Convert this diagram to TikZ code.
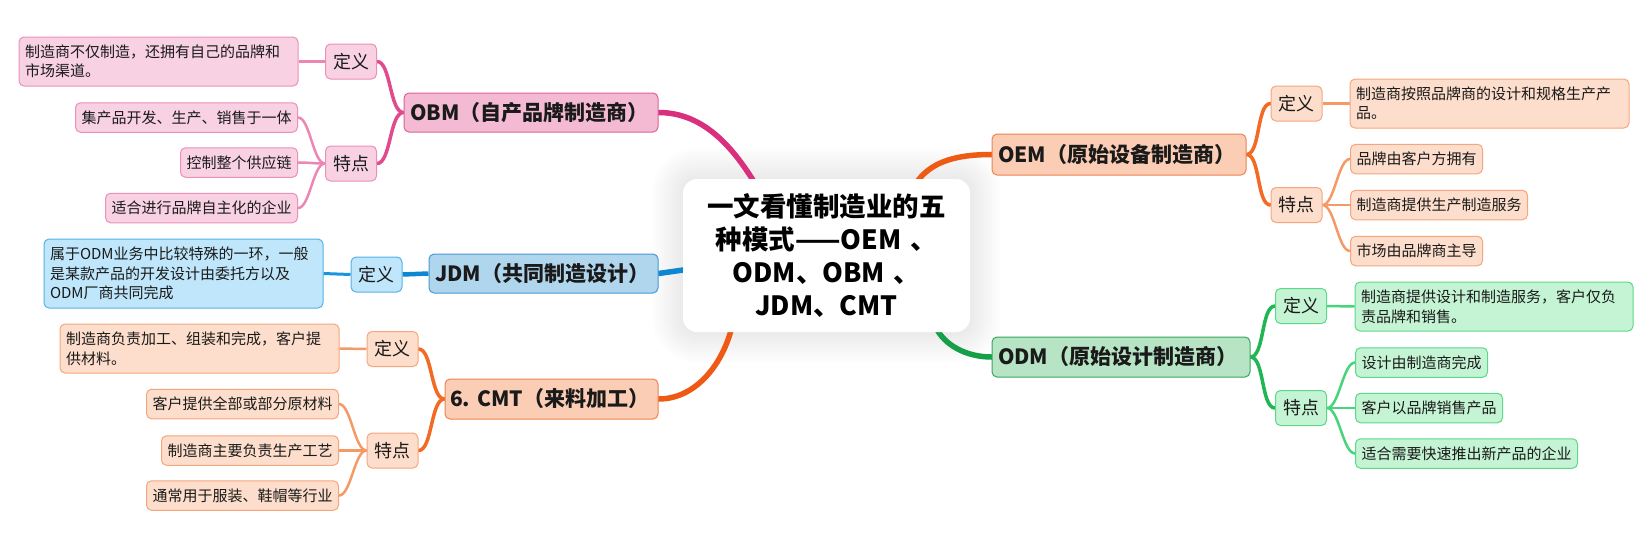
\documentclass[tikz,border=0pt]{standalone}
\usepackage{fontspec}
\newfontfamily\cjk{Noto Sans CJK SC}
\usetikzlibrary{calc}
\pgfdeclarelayer{glow}
\pgfdeclarelayer{lines}
\pgfsetlayers{glow,lines,main}
\definecolor{obmMF}{HTML}{F4BAD4}\definecolor{obmMD}{HTML}{E0609A}
\definecolor{obmSF}{HTML}{F8D2E3}\definecolor{obmSD}{HTML}{EC8FB9}
\definecolor{obmL1}{HTML}{D92F7F}\definecolor{obmL2}{HTML}{E04B8E}\definecolor{obmL3}{HTML}{EE86B4}
\definecolor{oemMF}{HTML}{FBCDB4}\definecolor{oemMD}{HTML}{EF8350}
\definecolor{oemSF}{HTML}{FDDDCB}\definecolor{oemSD}{HTML}{F5A67C}
\definecolor{oemL1}{HTML}{EE5A14}\definecolor{oemL2}{HTML}{F26A24}\definecolor{oemL3}{HTML}{F59A66}
\definecolor{odmMF}{HTML}{B6E4C4}\definecolor{odmMD}{HTML}{35A85C}
\definecolor{odmSF}{HTML}{C4F4D4}\definecolor{odmSD}{HTML}{5CD88A}
\definecolor{odmL1}{HTML}{15A048}\definecolor{odmL2}{HTML}{22B554}\definecolor{odmL3}{HTML}{48D47A}
\definecolor{jdmMF}{HTML}{B0D6EE}\definecolor{jdmMD}{HTML}{4499D4}
\definecolor{jdmSF}{HTML}{BFE6FA}\definecolor{jdmSD}{HTML}{55B2EA}
\definecolor{jdmL1}{HTML}{0E87D2}\definecolor{jdmL2}{HTML}{1A95DD}
\definecolor{txt}{HTML}{1A1A1A}
\begin{document}
\begin{tikzpicture}[x=1pt,y=-1pt,
  box/.style={rounded corners=5pt, line width=1pt, inner ysep=0pt, inner xsep=6pt, text=txt},
  mainbox/.style={box, font=\cjk\bfseries\fontsize{21}{25}\selectfont, align=left},
  subbox/.style={box, font=\cjk\fontsize{18}{22}\selectfont, align=center, inner xsep=0pt, minimum width=51pt, minimum height=35pt},
  leafbox/.style={box, font=\cjk\fontsize{15}{19.5}\selectfont, minimum height=29.5pt},
  deftext/.style={box, font=\cjk\fontsize{15}{19.5}\selectfont, align=left},
  obmM/.style={mainbox, fill=obmMF, draw=obmMD},
  obmS/.style={fill=obmSF, draw=obmSD},
  oemM/.style={mainbox, fill=oemMF, draw=oemMD},
  oemS/.style={fill=oemSF, draw=oemSD},
  odmM/.style={mainbox, fill=odmMF, draw=odmMD},
  odmS/.style={fill=odmSF, draw=odmSD},
  jdmM/.style={mainbox, fill=jdmMF, draw=jdmMD},
  jdmS/.style={fill=jdmSF, draw=jdmSD},
  lmain/.style={line width=5.5pt, line cap=round},
  lsub/.style={line width=3.5pt, line cap=round},
  lleaf/.style={line width=2.5pt},
]
\useasboundingbox (0,0) rectangle (1650,539);

% ---------- centre ----------
\node[box, fill=white, draw=none, rounded corners=14pt, minimum width=287pt, minimum height=153pt,
      text width=262pt, align=center, font=\cjk\bfseries\fontsize{26.5}{33}\selectfont, text=black]
  (c) at (826.5,255.5) {一文看懂制造业的五\\种模式——OEM 、\\ODM、OBM 、\\JDM、CMT};

% ---------- OBM ----------
\node[obmM, minimum width=254pt, minimum height=39pt, text width=242pt] (obm) at (531,112.5) {OBM（自产品牌制造商）};
\node[subbox, obmS] (obmdef) at (351,61.5) {定义};
\node[deftext, obmS, minimum width=279pt, minimum height=49pt, text width=267pt] (obmdeft) at (158.5,61.5) {制造商不仅制造，还拥有自己的品牌和\\市场渠道。};
\node[subbox, obmS] (obmfeat) at (351,163.5) {特点};
\node[leafbox, obmS, anchor=east] (obml1) at (298,117.5) {集产品开发、生产、销售于一体};
\node[leafbox, obmS, anchor=east] (obml2) at (298,162.5) {控制整个供应链};
\node[leafbox, obmS, anchor=east] (obml3) at (298,208) {适合进行品牌自主化的企业};

% ---------- JDM ----------
\node[jdmM, minimum width=229pt, minimum height=39pt, text width=217pt] (jdm) at (543.5,273.5) {JDM（共同制造设计）};
\node[subbox, jdmS] (jdmdef) at (376.5,274.5) {定义};
\node[deftext, jdmS, minimum width=279pt, minimum height=69pt, text width=267pt] (jdmdeft) at (183.5,273.5) {属于ODM业务中比较特殊的一环，一般\\是某款产品的开发设计由委托方以及\\ODM厂商共同完成};

% ---------- CMT ----------
\node[oemM, minimum width=213pt, minimum height=40pt, text width=203pt, inner xsep=5pt] (cmt) at (551.5,399) {\mbox{6.~CMT（来料加工）}};
\node[subbox, oemS] (cmtdef) at (392.5,349) {定义};
\node[deftext, oemS, minimum width=279pt, minimum height=49pt, text width=267pt] (cmtdeft) at (199.5,348.5) {制造商负责加工、组装和完成，客户提\\供材料。};
\node[subbox, oemS] (cmtfeat) at (392.5,450.5) {特点};
\node[leafbox, oemS, anchor=east] (cmtl1) at (339,404) {客户提供全部或部分原材料};
\node[leafbox, oemS, anchor=east] (cmtl2) at (339,450.5) {制造商主要负责生产工艺};
\node[leafbox, oemS, anchor=east] (cmtl3) at (339,495.5) {通常用于服装、鞋帽等行业};

% ---------- OEM ----------
\node[oemM, minimum width=254pt, minimum height=41pt, text width=242pt] (oem) at (1119,154.5) {OEM（原始设备制造商）};
\node[subbox, oemS] (oemdef) at (1296.5,103.5) {定义};
\node[deftext, oemS, minimum width=279pt, minimum height=49pt, text width=267pt] (oemdeft) at (1489.5,103.5) {制造商按照品牌商的设计和规格生产产\\品。};
\node[subbox, oemS] (oemfeat) at (1296.5,205) {特点};
\node[leafbox, oemS, anchor=west] (oeml1) at (1350,159) {品牌由客户方拥有};
\node[leafbox, oemS, anchor=west] (oeml2) at (1350,205) {制造商提供生产制造服务};
\node[leafbox, oemS, anchor=west] (oeml3) at (1350,251) {市场由品牌商主导};

% ---------- ODM ----------
\node[odmM, minimum width=258pt, minimum height=40pt, text width=246pt] (odm) at (1121,357) {ODM（原始设计制造商）};
\node[subbox, odmS] (odmdef) at (1301,306) {定义};
\node[deftext, odmS, minimum width=278pt, minimum height=49pt, text width=266pt] (odmdeft) at (1494,306.5) {制造商提供设计和制造服务，客户仅负\\责品牌和销售。};
\node[subbox, odmS] (odmfeat) at (1301,408) {特点};
\node[leafbox, odmS, anchor=west] (odml1) at (1355,362.5) {设计由制造商完成};
\node[leafbox, odmS, anchor=west] (odml2) at (1355,408) {客户以品牌销售产品};
\node[leafbox, odmS, anchor=west] (odml3) at (1355,453.5) {适合需要快速推出新产品的企业};

% ---------- glow behind centre ----------
\begin{pgfonlayer}{glow}
\fill[white] (0,0) rectangle (1650,539);
\foreach \k in {3,6,...,30}
  \fill[black, opacity=0.009, rounded corners={14pt+\k pt}]
    ($(c.north west)+(-\k,-\k)$) rectangle ($(c.south east)+(\k,\k)$);
\end{pgfonlayer}

% ---------- connectors ----------
\coordinate (cOBM) at ($(c.north west)+(72,4)$);
\coordinate (cOEM) at ($(c.north east)+(-54,4)$);
\coordinate (cJDM) at ($(c.north west)+(4,91)$);
\coordinate (cCMT) at ($(c.south west)+(49,-4)$);
\coordinate (cODM) at ($(c.south east)+(-34,-4)$);
\begin{pgfonlayer}{lines}
\draw[lmain, obmL1] (obm.east) .. controls +(47,0) and +(-20,-32) .. (cOBM);
\draw[lmain, oemL1] (oem.west) .. controls +(-43,0) and +(12,-17) .. (cOEM);
\draw[lmain, jdmL1] (jdm.east) -- (cJDM);
\draw[lmain, oemL1] (cCMT) .. controls +(-10,38) and +(36,0) .. (cmt.east);
\draw[lmain, odmL1] (cODM) .. controls +(8,16) and +(-26,0) .. (odm.west);
% OBM
\draw[lsub, obmL2] (obm.west) .. controls +(-14,0) and +(14,0) .. (obmdef.east);
\draw[lsub, obmL2] (obm.west) .. controls +(-14,0) and +(14,0) .. (obmfeat.east);
\draw[lleaf, obmL3] (obmdef.west) -- (obmdeft.east);
\draw[lleaf, obmL3] (obmfeat.west) .. controls +(-12,0) and +(12,0) .. (obml1.east);
\draw[lleaf, obmL3] (obmfeat.west) .. controls +(-12,0) and +(12,0) .. (obml2.east);
\draw[lleaf, obmL3] (obmfeat.west) .. controls +(-12,0) and +(12,0) .. (obml3.east);
% JDM
\draw[line width=4.5pt, jdmL1] (jdm.west) -- (jdmdef.east);
\draw[line width=3pt, jdmL2] (jdmdef.west) -- (jdmdeft.east);
% CMT
\draw[lsub, oemL2] (cmt.west) .. controls +(-14,0) and +(14,0) .. (cmtdef.east);
\draw[lsub, oemL2] (cmt.west) .. controls +(-14,0) and +(14,0) .. (cmtfeat.east);
\draw[lleaf, oemL3] (cmtdef.west) -- (cmtdeft.east);
\draw[lleaf, oemL3] (cmtfeat.west) .. controls +(-12,0) and +(12,0) .. (cmtl1.east);
\draw[lleaf, oemL3] (cmtfeat.west) .. controls +(-12,0) and +(12,0) .. (cmtl2.east);
\draw[lleaf, oemL3] (cmtfeat.west) .. controls +(-12,0) and +(12,0) .. (cmtl3.east);
% OEM
\draw[lsub, oemL2] (oem.east) .. controls +(14,0) and +(-14,0) .. (oemdef.west);
\draw[lsub, oemL2] (oem.east) .. controls +(14,0) and +(-14,0) .. (oemfeat.west);
\draw[lleaf, oemL3] (oemdef.east) -- (oemdeft.west);
\draw[lleaf, oemL3] (oemfeat.east) .. controls +(12,0) and +(-12,0) .. (oeml1.west);
\draw[lleaf, oemL3] (oemfeat.east) .. controls +(12,0) and +(-12,0) .. (oeml2.west);
\draw[lleaf, oemL3] (oemfeat.east) .. controls +(12,0) and +(-12,0) .. (oeml3.west);
% ODM
\draw[lsub, odmL2] (odm.east) .. controls +(14,0) and +(-14,0) .. (odmdef.west);
\draw[lsub, odmL2] (odm.east) .. controls +(14,0) and +(-14,0) .. (odmfeat.west);
\draw[lleaf, odmL3] (odmdef.east) -- (odmdeft.west);
\draw[lleaf, odmL3] (odmfeat.east) .. controls +(12,0) and +(-12,0) .. (odml1.west);
\draw[lleaf, odmL3] (odmfeat.east) .. controls +(12,0) and +(-12,0) .. (odml2.west);
\draw[lleaf, odmL3] (odmfeat.east) .. controls +(12,0) and +(-12,0) .. (odml3.west);
\end{pgfonlayer}
\end{tikzpicture}
\end{document}
